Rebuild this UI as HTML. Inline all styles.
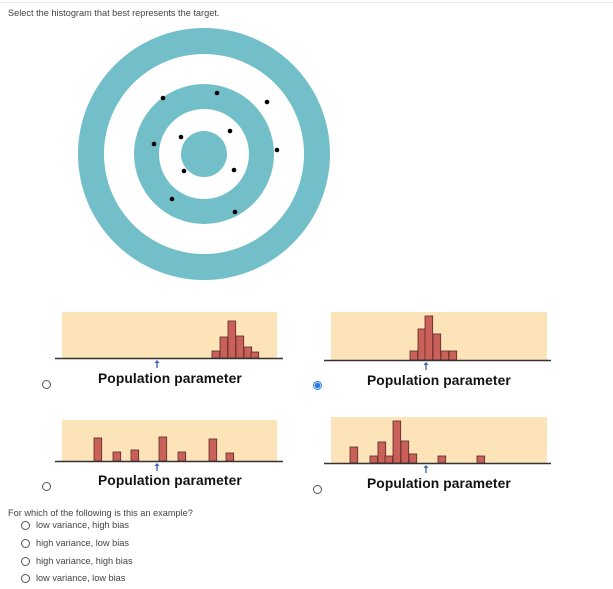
<!DOCTYPE html>
<html><head><meta charset="utf-8">
<style>
body{margin:0;width:613px;height:589px;background:#fff;overflow:hidden;font-family:"Liberation Sans",sans-serif;}
.t{position:absolute;font-size:9.2px;color:#444;white-space:nowrap}
.lbl{position:absolute;font-size:13.8px;font-weight:bold;color:#111;white-space:nowrap;letter-spacing:0.1px}
.rad{position:absolute;width:7px;height:7px;border:1px solid #555;border-radius:50%;background:#fff}
</style></head><body>
<div style="position:absolute;left:0;top:2px;width:613px;height:1px;background:#e4e4e4"></div>
<div class="t" style="left:8px;top:8px">Select the histogram that best represents the target.</div>
<svg width="613" height="589" style="position:absolute;left:0;top:0">
<g id="target"></g>
<g id="hists"></g>
</svg>
<div class="lbl" style="left:98px;top:371px">Population parameter</div>
<div class="lbl" style="left:367px;top:373px">Population parameter</div>
<div class="lbl" style="left:98px;top:473px">Population parameter</div>
<div class="lbl" style="left:367px;top:476px">Population parameter</div>
<div class="rad" style="left:42px;top:380px"></div>
<div class="rad" style="left:313px;top:381px;border-color:#2a7de1;background:radial-gradient(circle,#2a7de1 55%,#fff 60%)"></div>
<div class="rad" style="left:42px;top:482px"></div>
<div class="rad" style="left:313px;top:485px"></div>
<div class="t" style="left:8px;top:508px">For which of the following is this an example?</div>
<div class="rad" style="left:21px;top:521px"></div>
<div class="t" style="left:36px;top:520px">low variance, high bias</div>
<div class="rad" style="left:21px;top:539px"></div>
<div class="t" style="left:36px;top:538px">high variance, low bias</div>
<div class="rad" style="left:21px;top:557px"></div>
<div class="t" style="left:36px;top:556px">high variance, high bias</div>
<div class="rad" style="left:21px;top:574px"></div>
<div class="t" style="left:36px;top:573px">low variance, low bias</div>
<script>
const NS="http://www.w3.org/2000/svg";
const dotX=[163,217,267,181,230,154,277,184,234,172,235];
const dotY=[98,93,102,137,131,144,150,171,170,199,212];
const ringR=[126,100,70,45,23];
const aStarts=[212,220,228,236,244,251], aHeights=[7,21,37,22,11,6];
const bStarts=[410,418,425,433,441,449], bHeights=[9,31,44,26,9,9];
const cStarts=[94,113,131,159,178,209,226], cHeights=[23,9,11,24,9,22,8];
const dStarts=[350,370,378,385,393,401,409,438,477], dHeights=[16,7,21,7,42,22,9,7,7];
function mk(t,a,p){const e=document.createElementNS(NS,t);for(const k in a)e.setAttribute(k,a[k]);p.appendChild(e);return e;}
const tg=document.getElementById('target');
ringR.forEach((r,i)=>{const c=mk('circle',{cx:204,cy:154,r:r,fill:i%2==0?'#72bfc9':'#fff'},tg);

});
dotX.forEach((x,i)=>{const c=mk('circle',{cx:x,cy:dotY[i],r:2.3,fill:'#000'},tg);

});
const hg=document.getElementById('hists');
function hist(name,bx,by,bw,bh,ax0,ax1,ay,arrowX,starts,heights){
 const g=mk('g',{},hg);
 
 
 mk('rect',{x:bx,y:by,width:bw,height:bh,fill:'#fce3b8'},g);
 starts.forEach((s,i)=>{const r=mk('rect',{x:s,y:ay-heights[i],width:7.7,height:heights[i],fill:'#c9605a',stroke:'#5a2a25','stroke-width':0.8},g);
 
 });
 mk('line',{x1:ax0,x2:ax1,y1:ay+0.5,y2:ay+0.5,stroke:'#333','stroke-width':1.5},g);
 mk('line',{x1:arrowX,x2:arrowX,y1:ay+4,y2:ay+10,stroke:'#3a62b0','stroke-width':1.3},g);
 mk('path',{d:`M${arrowX-2.5},${ay+5} L${arrowX},${ay+2} L${arrowX+2.5},${ay+5}Z`,fill:'#3a62b0'},g);
}
hist('histogram-a',62,312,215,46,55,283,358,157,aStarts,aHeights);
hist('histogram-b',331,312,216,48,324,551,360,426,bStarts,bHeights);
hist('histogram-c',62,420,215,41,55,283,461,157,cStarts,cHeights);
hist('histogram-d',331,417,216,46,324,551,463,426,dStarts,dHeights);
</script>
</body></html>
